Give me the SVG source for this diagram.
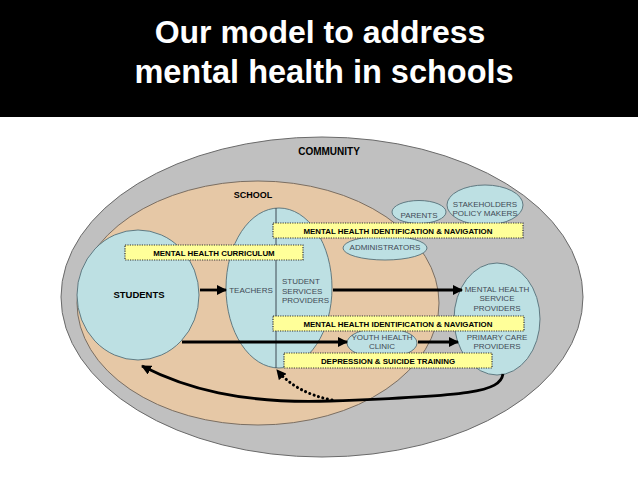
<svg xmlns="http://www.w3.org/2000/svg" width="638" height="478" viewBox="0 0 638 478">
<style>
.title{font-family:"Liberation Sans",Arial,sans-serif;font-weight:bold;font-size:32px;fill:#fff}
.lbl{font-family:"Liberation Sans",Arial,sans-serif;font-size:8px;fill:#3f4a55}
.bold{font-family:"Liberation Sans",Arial,sans-serif;font-weight:bold;font-size:9.5px;fill:#000}
.box{fill:#ffff99;stroke:#333;stroke-width:1.2;stroke-dasharray:1.2 1.2}
.boxt{font-family:"Liberation Sans",Arial,sans-serif;font-weight:bold;font-size:7.9px;fill:#000}
.node{fill:#bde0e3;stroke:#556f78;stroke-width:0.9}
.arr{fill:none;stroke:#000;stroke-width:2.8}
</style>
<defs>
<marker id="ah" markerUnits="userSpaceOnUse" markerWidth="11" markerHeight="10" refX="9" refY="5" orient="auto">
<path d="M0,0 L10,5 L0,10 z" fill="#000"/>
</marker>
</defs>
<rect x="0" y="0" width="638" height="478" fill="#fff"/>
<rect x="0" y="0" width="638" height="117" fill="#000"/>
<text class="title" x="320" y="43" text-anchor="middle">Our model to address</text>
<text class="title" x="324" y="83" text-anchor="middle" style="font-size:32.5px">mental health in schools</text>

<g id="community">
<ellipse cx="322" cy="297" rx="261" ry="160" fill="#c0c0c0" stroke="#6a6a6a" stroke-width="1"/>
<text class="bold" x="329" y="155" text-anchor="middle" style="font-size:10px">COMMUNITY</text>
</g>
<g id="school">
<ellipse cx="258" cy="303" rx="181" ry="122" fill="#e6c8a6" stroke="#7a6e62" stroke-width="1"/>
<text class="bold" x="253" y="198" text-anchor="middle" style="font-size:9px">SCHOOL</text>
</g>
<g id="students">
<ellipse class="node" cx="138" cy="295" rx="61" ry="65"/>
<text class="bold" x="139" y="298" text-anchor="middle">STUDENTS</text>
</g>
<g id="teachers">
<ellipse class="node" cx="279" cy="288" rx="53" ry="80"/>
<line x1="276" y1="208" x2="276" y2="368" stroke="#3f4a55" stroke-width="1"/>
<text class="lbl" x="251" y="293" text-anchor="middle">TEACHERS</text>
<text class="lbl" x="282" y="284">STUDENT</text>
<text class="lbl" x="282" y="294">SERVICES</text>
<text class="lbl" x="282" y="303">PROVIDERS</text>
</g>
<g id="providers">
<ellipse class="node" cx="497" cy="319" rx="43" ry="56"/>
<text class="lbl" x="497" y="292" text-anchor="middle">MENTAL HEALTH</text>
<text class="lbl" x="497" y="301" text-anchor="middle">SERVICE</text>
<text class="lbl" x="497" y="311" text-anchor="middle">PROVIDERS</text>
<text class="lbl" x="497" y="340" text-anchor="middle">PRIMARY CARE</text>
<text class="lbl" x="497" y="349" text-anchor="middle">PROVIDERS</text>
</g>
<g id="parents">
<ellipse class="node" cx="419" cy="212" rx="27" ry="11.5"/>
<text class="lbl" x="419" y="218" text-anchor="middle">PARENTS</text>
</g>
<g id="stakeholders">
<ellipse class="node" cx="485" cy="205" rx="38" ry="20"/>
<text class="lbl" x="485" y="207" text-anchor="middle">STAKEHOLDERS</text>
<text class="lbl" x="485" y="216" text-anchor="middle">POLICY MAKERS</text>
</g>
<g id="administrators">
<ellipse class="node" cx="385" cy="248" rx="42" ry="12"/>
<text class="lbl" x="385" y="250" text-anchor="middle">ADMINISTRATORS</text>
</g>
<g id="youth-clinic">
<ellipse class="node" cx="382" cy="343" rx="35" ry="15"/>
<text class="lbl" x="382" y="340" text-anchor="middle">YOUTH HEALTH</text>
<text class="lbl" x="382" y="349" text-anchor="middle">CLINIC</text>
</g>

<g id="connectors">
<line class="arr" x1="200" y1="290" x2="226" y2="290" marker-end="url(#ah)"/>
<line class="arr" x1="333" y1="290" x2="462" y2="290" marker-end="url(#ah)"/>
<line class="arr" x1="182" y1="342" x2="347" y2="342" marker-end="url(#ah)"/>
<line class="arr" x1="418" y1="342" x2="458" y2="342" marker-end="url(#ah)"/>
<path class="arr" d="M503,374 C500,392 470,396 330,401 C240,404 185,388 142,366" marker-end="url(#ah)"/>
<path d="M332,400 Q296,393 277,370" fill="none" stroke="#000" stroke-width="3" stroke-dasharray="0.1 4.5" stroke-linecap="round" marker-end="url(#ah)"/>
</g>

<g id="mhin-top">
<rect class="box" x="273" y="223" width="250" height="15"/>
<text class="boxt" x="398" y="233.5" text-anchor="middle">MENTAL HEALTH IDENTIFICATION &amp; NAVIGATION</text>
</g>
<g id="curriculum">
<rect class="box" x="125" y="245" width="178" height="15"/>
<text class="boxt" x="214" y="255.5" text-anchor="middle">MENTAL HEALTH CURRICULUM</text>
</g>
<g id="mhin-mid">
<rect class="box" x="273" y="316" width="251" height="15"/>
<text class="boxt" x="398" y="326.5" text-anchor="middle">MENTAL HEALTH IDENTIFICATION &amp; NAVIGATION</text>
</g>
<g id="depression">
<rect class="box" x="284" y="353" width="208" height="15"/>
<text class="boxt" x="388" y="363.5" text-anchor="middle">DEPRESSION &amp; SUICIDE TRAINING</text>
</g>
</svg>
